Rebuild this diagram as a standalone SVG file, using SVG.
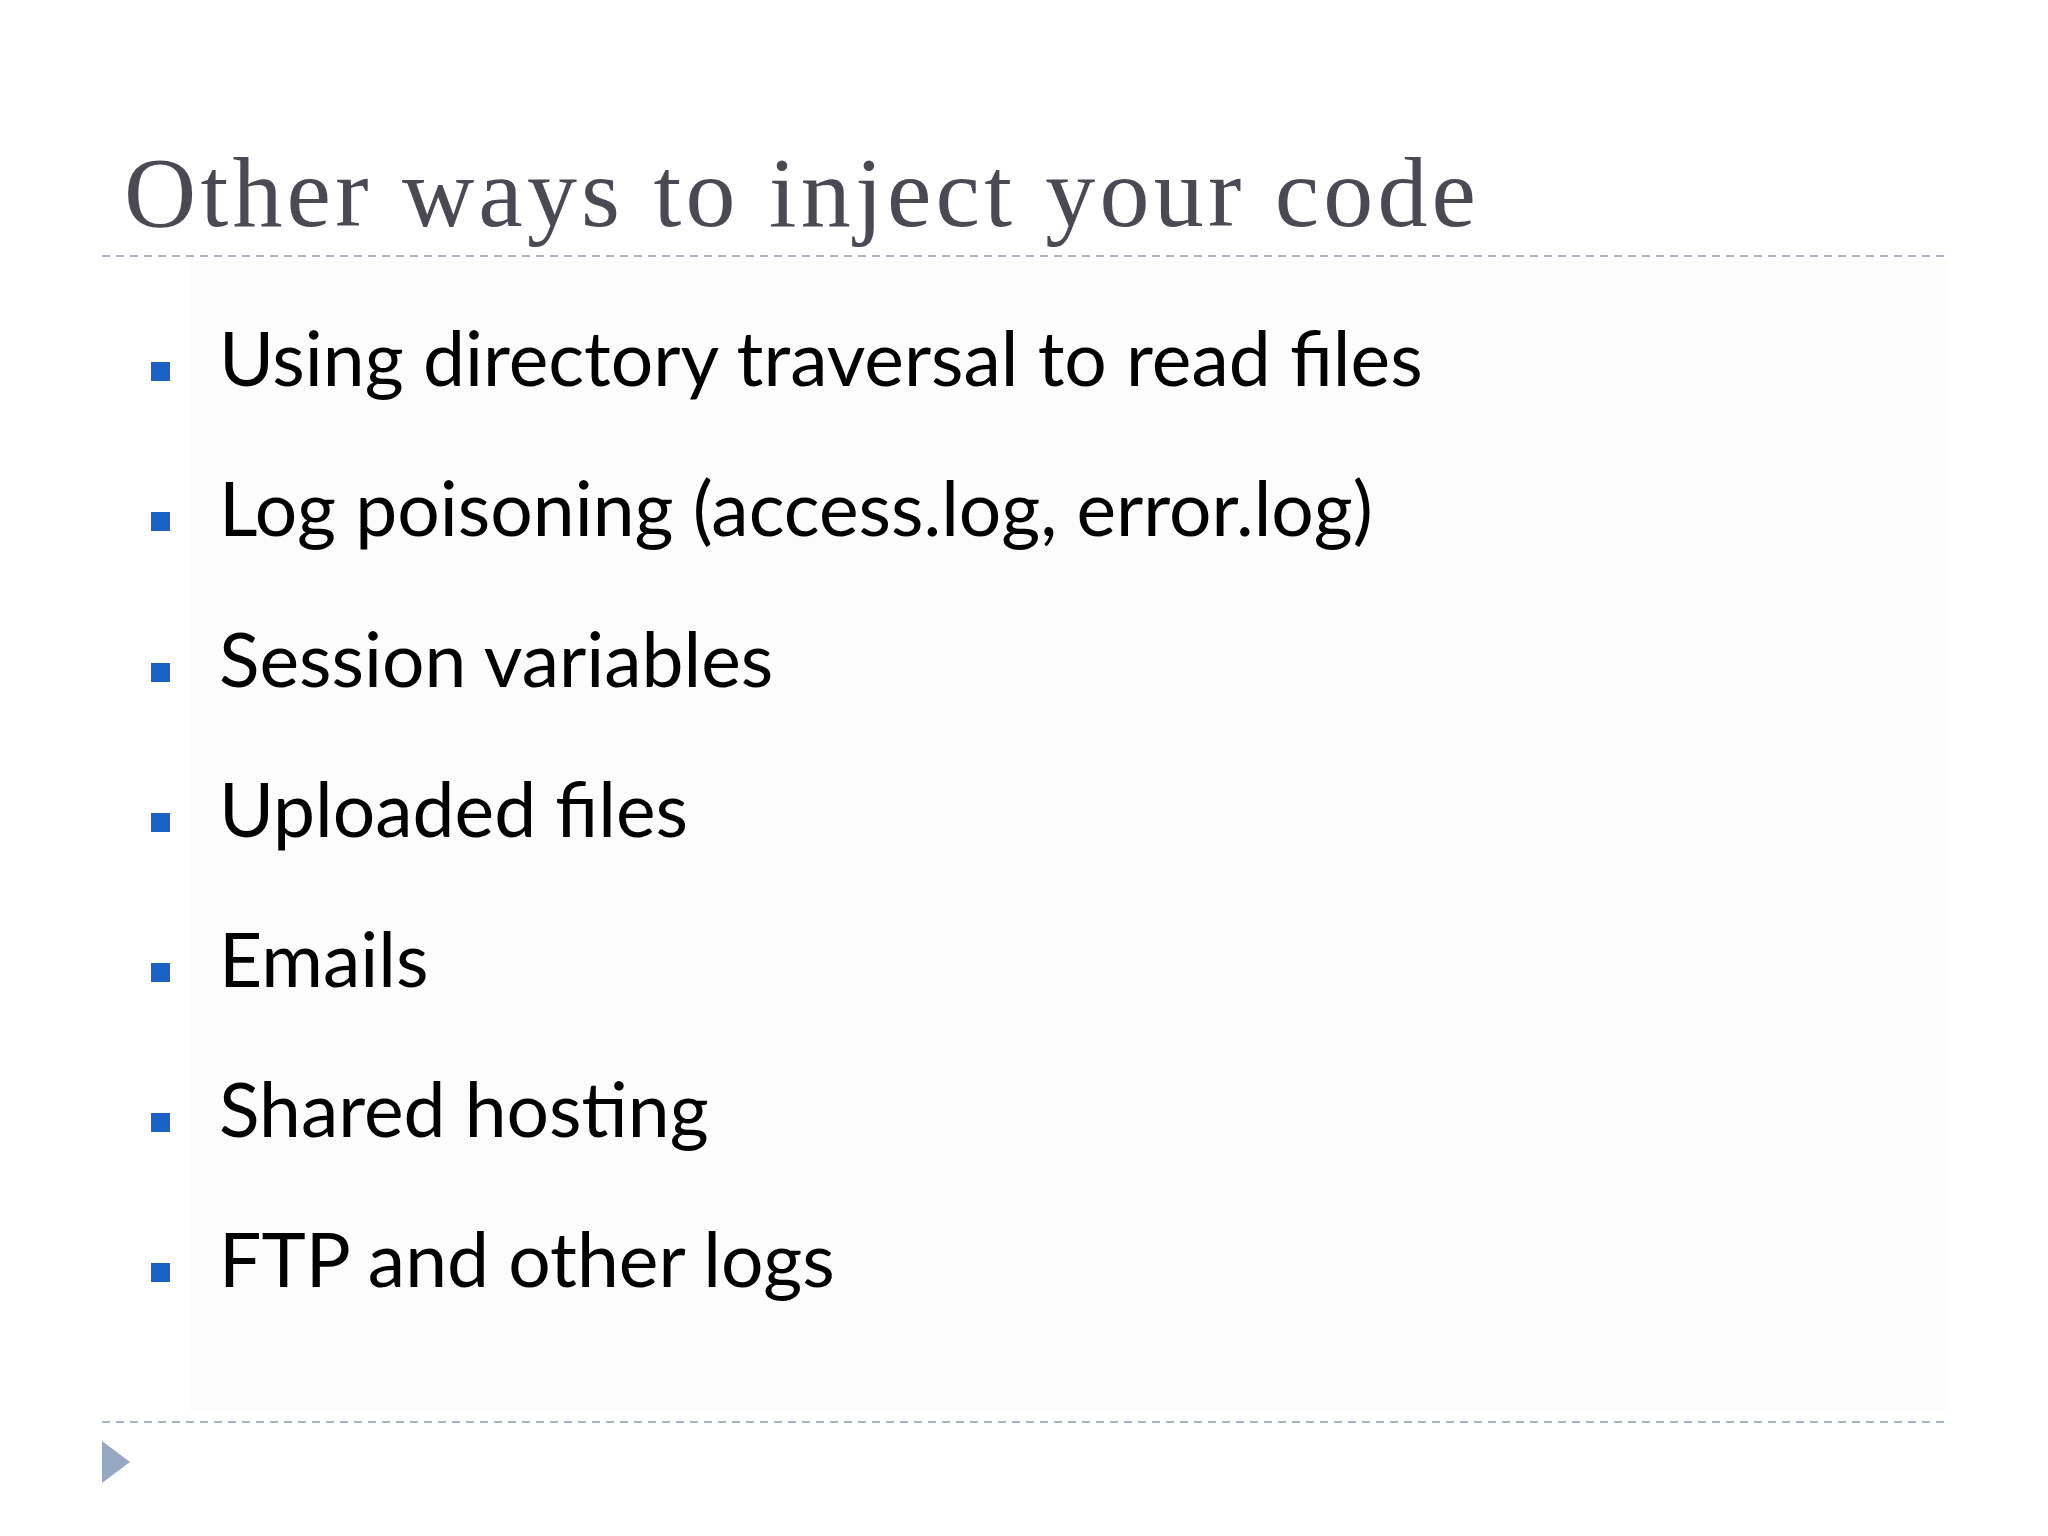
<svg xmlns="http://www.w3.org/2000/svg" width="2048" height="1536" viewBox="0 0 2048 1536">
<style>
.t{font-family:"Liberation Serif",serif;font-size:100px;fill:#4a4a55}
.b{font-family:Lato,"Open Sans",sans-serif;font-size:75px;fill:#000}
.sq{fill:#1a63c6}
.d{stroke:#a8b4c4;stroke-width:2;stroke-dasharray:8 6}
</style>
<rect width="2048" height="1536" fill="#fff"/>
<rect x="190" y="260" width="1758" height="1150" fill="#fcfcfd"/>
<text class="t" x="124" y="226" textLength="1352">Other ways to inject your code</text>
<line class="d" x1="102" y1="256" x2="1946" y2="256"/>
<line class="d" x1="102" y1="1422" x2="1946" y2="1422"/>
<polygon points="102,1441 130,1462 102,1483" fill="#97a9c2"/>
<g id="items">
<rect class="sq" x="151" y="362" width="19" height="19"/><text class="b" x="219" y="386">Using directory traversal to read files</text>
<rect class="sq" x="151" y="512" width="19" height="19"/><text class="b" x="219" y="536">Log poisoning (access.log, error.log)</text>
<rect class="sq" x="151" y="663" width="19" height="19"/><text class="b" x="219" y="687">Session variables</text>
<rect class="sq" x="151" y="813" width="19" height="19"/><text class="b" x="219" y="837">Uploaded files</text>
<rect class="sq" x="151" y="963" width="19" height="19"/><text class="b" x="219" y="987">Emails</text>
<rect class="sq" x="151" y="1113" width="19" height="19"/><text class="b" x="219" y="1137">Shared hosting</text>
<rect class="sq" x="151" y="1263" width="19" height="19"/><text class="b" x="219" y="1287">FTP and other logs</text>
</g>
</svg>
